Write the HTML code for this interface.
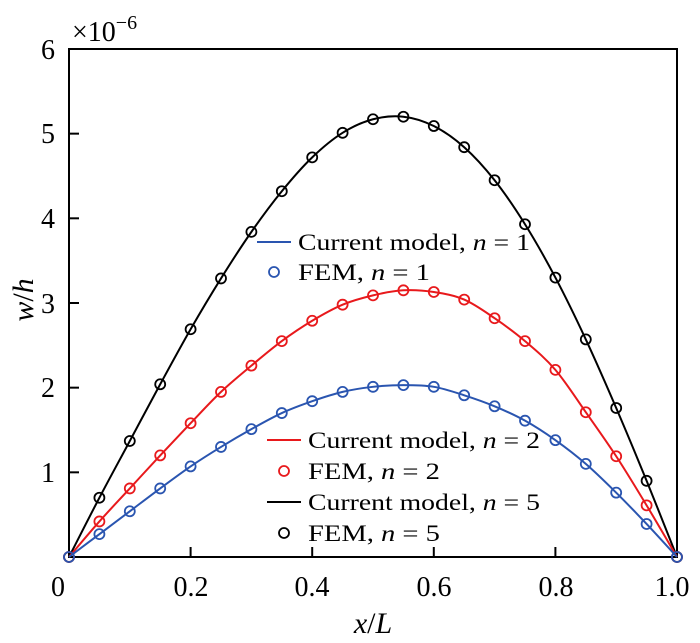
<!DOCTYPE html>
<html><head><style>body{margin:0;background:#fff}svg{display:block}text{font-family:"Liberation Serif",serif}</style></head>
<body>
<svg id="s" width="700" height="643" xmlns="http://www.w3.org/2000/svg">
<rect x="69" y="49" width="608" height="508" fill="none" stroke="#000" stroke-width="2"/>
<g id="g"></g>
<g font-size="28" text-anchor="end">
<text x="55" y="482">1</text><text x="55" y="397">2</text><text x="55" y="313">3</text><text x="55" y="228">4</text><text x="55" y="143">5</text><text x="55" y="59">6</text>
</g>
<g font-size="28" text-anchor="middle">
<text x="58" y="596">0</text><text x="191" y="596">0.2</text><text x="312" y="596">0.4</text><text x="434" y="596">0.6</text><text x="556" y="596">0.8</text><text x="672" y="596">1.0</text>
</g>
<text x="72" y="41" font-size="28">×10<tspan dy="-12" font-size="20">−6</tspan></text>
<text x="373" y="633" font-size="30" text-anchor="middle"><tspan font-style="italic">x</tspan>/<tspan font-style="italic">L</tspan></text>
<text transform="translate(33,300) rotate(-90)" font-size="30" text-anchor="middle"><tspan font-style="italic">w</tspan>/<tspan font-style="italic">h</tspan></text>
<g font-size="23">
<line x1="257" y1="242" x2="291" y2="242" stroke="#2a55b0" stroke-width="2"/><text x="298" y="250" textLength="232" lengthAdjust="spacingAndGlyphs">Current model, <tspan font-style="italic">n</tspan> = 1</text>
<circle cx="274" cy="272" r="5" fill="none" stroke="#2a55b0" stroke-width="1.8"/><text x="298" y="280" textLength="132" lengthAdjust="spacingAndGlyphs">FEM, <tspan font-style="italic">n</tspan> = 1</text>
<line x1="267" y1="440" x2="301" y2="440" stroke="#e8191c" stroke-width="2"/><text x="308" y="448" textLength="232" lengthAdjust="spacingAndGlyphs">Current model, <tspan font-style="italic">n</tspan> = 2</text>
<circle cx="284" cy="471" r="5" fill="none" stroke="#e8191c" stroke-width="1.8"/><text x="308" y="479" textLength="132" lengthAdjust="spacingAndGlyphs">FEM, <tspan font-style="italic">n</tspan> = 2</text>
<line x1="267" y1="502" x2="301" y2="502" stroke="#000" stroke-width="2"/><text x="308" y="510" textLength="232" lengthAdjust="spacingAndGlyphs">Current model, <tspan font-style="italic">n</tspan> = 5</text>
<circle cx="284" cy="533" r="5" fill="none" stroke="#000" stroke-width="1.8"/><text x="308" y="541" textLength="132" lengthAdjust="spacingAndGlyphs">FEM, <tspan font-style="italic">n</tspan> = 5</text>
</g>
</svg>
<script>
var K=[0,0.70,1.37,2.04,2.69,3.29,3.84,4.32,4.72,5.01,5.17,5.20,5.09,4.84,4.45,3.93,3.30,2.57,1.76,0.90,0];
var R=[0,0.42,0.81,1.20,1.58,1.95,2.26,2.55,2.79,2.98,3.09,3.15,3.13,3.04,2.82,2.55,2.21,1.71,1.19,0.61,0];
var B=[0,0.27,0.54,0.81,1.07,1.30,1.51,1.70,1.84,1.95,2.01,2.03,2.01,1.91,1.78,1.61,1.38,1.10,0.76,0.39,0];
var g=document.getElementById('g'),h='';
function X(x){return 69+608*x}function Y(y){return 557-84.67*y}
for(var i=1;i<6;i++){h+='<line x1="69" x2="79" y1="'+Y(i)+'" y2="'+Y(i)+'" stroke="#000" stroke-width="2"/>';}
for(var i=1;i<5;i++){var xx=X(i*0.2);h+='<line x1="'+xx+'" x2="'+xx+'" y1="557" y2="547" stroke="#000" stroke-width="2"/>';}
[[K,'#000'],[R,'#e8191c'],[B,'#2a55b0']].forEach(function(c){
 var p=c[0].map(function(v,i){return [X(i*0.05),Y(v)]});
 var d='M'+p[0][0]+','+p[0][1];
 for(var i=0;i<p.length-1;i++){var p0=p[Math.max(i-1,0)],p1=p[i],p2=p[i+1],p3=p[Math.min(i+2,p.length-1)];
  d+=' C'+(p1[0]+(p2[0]-p0[0])/6)+','+(p1[1]+(p2[1]-p0[1])/6)+' '+(p2[0]-(p3[0]-p1[0])/6)+','+(p2[1]-(p3[1]-p1[1])/6)+' '+p2[0]+','+p2[1];}
 h+='<path d="'+d+'" fill="none" stroke="'+c[1]+'" stroke-width="2"/>';
 p.forEach(function(q){h+='<circle cx="'+q[0]+'" cy="'+q[1]+'" r="5" fill="none" stroke="'+c[1]+'" stroke-width="1.8"/>';});
});
g.innerHTML=h;
</script>
</body></html>
